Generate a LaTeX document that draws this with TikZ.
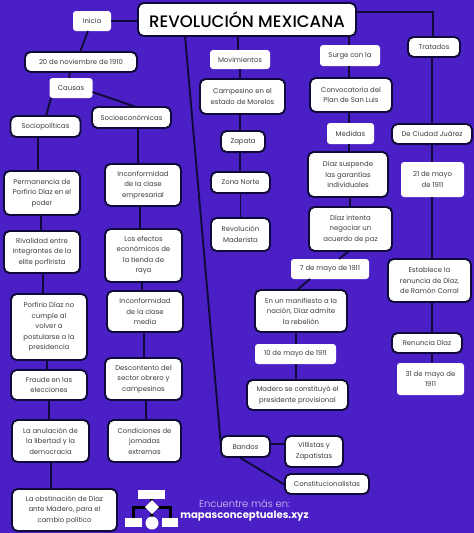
\documentclass[tikz,border=0pt]{standalone}
\usepackage{fontspec}
\usepackage{xcolor}
\setmainfont{Poppins}
\newfontfamily\headfont{Poppins Medium}
\newfontfamily\lightfont{Poppins Light}
\usetikzlibrary{positioning,shapes.geometric}
\definecolor{bgviolet}{HTML}{4A20C6}
\definecolor{inkdark}{HTML}{100A38}
\definecolor{txtgrey}{HTML}{3A3A44}
\definecolor{lilac}{HTML}{D6CCF6}

\begin{document}
\begin{tikzpicture}[
  x=1pt, y=1pt,
  font=\fontsize{6.9}{10.5}\selectfont,
  box/.style={draw=inkdark, line width=1.9pt, rounded corners=5.5pt, fill=white, text=txtgrey, align=center, inner sep=0pt, outer sep=0pt},
  tag/.style={rounded corners=3pt, fill=white, text=txtgrey, align=center, inner sep=0pt, outer sep=0pt},
  lnk/.style={draw=inkdark, line width=1.9pt},
  logolnk/.style={draw=black, line width=3pt},
  logopart/.style={draw=none, fill=white, inner sep=0pt, outer sep=0pt}
]
\fill[bgviolet] (0,0) rectangle (474,-533);
\useasboundingbox (0,0) rectangle (474,-533);
% title
\node[box, minimum width=218pt, minimum height=33pt, font=\headfont\fontsize{16.6}{20}\selectfont, text=black] (title) at (247,-19.5) {REVOLUCIÓN MEXICANA};
% left branch
\node[tag, minimum width=38pt, minimum height=20pt, left=27pt of title, yshift=-1.5pt] (inicia) {Inicia};
\node[box, minimum width=112pt, minimum height=20pt, below=21pt of inicia, xshift=-11pt] (fecha) {20 de noviembre de 1910};
\node[tag, minimum width=43pt, minimum height=20pt, below=6pt of fecha, xshift=-10pt] (causas) {Causas};
\node[box, minimum width=70pt, minimum height=21pt, below=18pt of causas, xshift=-25.5pt] (sociopol) {Sociopolíticas};
\node[box, minimum width=79pt, minimum height=21pt, below=9pt of causas, xshift=60.5pt] (socioecon) {Socioeconómicas};
\node[box, minimum width=76pt, minimum height=44pt, below=34pt of sociopol, xshift=-3.5pt] (perm) {Permanencia de\\Porfirio Díaz en el\\poder};
\node[box, minimum width=76pt, minimum height=42pt, below=16pt of perm] (rival) {Rivalidad entre\\integrantes de la\\elite porfirista};
\node[box, minimum width=76pt, minimum height=66pt, below=21pt of rival, xshift=7pt] (porfirio) {Porfirio Díaz no\\cumple al\\volver a\\postularse a la\\presidencia};
\node[box, minimum width=76pt, minimum height=30pt, below=10pt of porfirio] (fraude) {Fraude en las\\elecciones};
\node[box, minimum width=77pt, minimum height=42pt, below=20pt of fraude, xshift=1.5pt] (anulacion) {La anulación de\\la libertad y la\\democracia};
\node[box, minimum width=105pt, minimum height=42pt, below=27pt of anulacion, xshift=14pt] (obstinacion) {La obstinación de Díaz\\ante Madero, para el\\cambio político};
\node[box, minimum width=76pt, minimum height=42pt, below=36pt of socioecon, xshift=11.5pt] (empresarial) {Inconformidad\\de la clase\\empresarial};
\node[box, minimum width=77pt, minimum height=53pt, below=23pt of empresarial, xshift=0.5pt] (efectos) {Los efectos\\económicos de\\la tienda de\\raya};
\node[box, minimum width=76pt, minimum height=41pt, below=9pt of efectos, xshift=1.5pt] (media) {Inconformidad\\de la clase\\media};
\node[box, minimum width=77pt, minimum height=42pt, below=26pt of media, xshift=-1.5pt] (descontento) {Descontento del\\sector obrero y\\campesinos};
\node[box, minimum width=73pt, minimum height=42pt, below=20pt of descontento, xshift=1pt] (jornadas) {Condiciones de\\jornadas\\extremas};
% middle branch
\node[tag, minimum width=60pt, minimum height=19pt, below=14pt of title, xshift=-7pt] (movimientos) {Movimientos};
\node[box, minimum width=85pt, minimum height=35pt, below=10pt of movimientos, xshift=2.5pt] (campesino) {Campesino en el\\estado de Morelos};
\node[box, minimum width=44pt, minimum height=21pt, below=17pt of campesino, xshift=0.5pt] (zapata) {Zapata};
\node[box, minimum width=59pt, minimum height=21pt, below=20pt of zapata, xshift=-2.5pt] (zona) {Zona Norte};
\node[box, minimum width=59pt, minimum height=33pt, below=25pt of zona] (maderista) {Revolución\\Maderista};
\node[box, minimum width=49pt, minimum height=21pt, below=185pt of maderista, xshift=5pt] (bandos) {Bandos};
\node[box, minimum width=58pt, minimum height=31pt, right=15pt of bandos, yshift=-5pt] (villistas) {Villistas y\\Zapatistas};
\node[box, minimum width=84pt, minimum height=20pt, below=7pt of villistas, xshift=13pt] (constit) {Constitucionalistas};
% center branch
\node[tag, minimum width=60pt, minimum height=21pt, below=9pt of title, xshift=103pt] (surge) {Surge con la};
\node[box, minimum width=82pt, minimum height=34pt, below=12pt of surge, xshift=1pt] (convocatoria) {Convocatoria del\\Plan de San Luis};
\node[tag, minimum width=47pt, minimum height=21pt, below=11pt of convocatoria, xshift=-0.5pt] (medidas) {Medidas};
\node[box, minimum width=80pt, minimum height=45pt, below=8pt of medidas, xshift=-2.5pt] (suspende) {Díaz suspende\\las garantías\\individuales};
\node[box, minimum width=83pt, minimum height=44pt, below=10pt of suspende, xshift=2.5pt] (negociar) {Díaz intenta\\negociar un\\acuerdo de paz};
\node[tag, minimum width=78pt, minimum height=20pt, below=8pt of negociar, xshift=-20.5pt] (siete) {7 de mayo de 1911};
\node[box, minimum width=92pt, minimum height=42pt, below=11pt of siete, xshift=-29pt] (manifiesto) {En un manifiesto a la\\nación, Díaz admite\\la rebelión};
\node[tag, minimum width=81pt, minimum height=20pt, below=12pt of manifiesto, xshift=-5.5pt] (diez) {10 de mayo de 1911};
\node[box, minimum width=101pt, minimum height=30pt, below=16pt of diez, xshift=2pt] (madero) {Madero se constituyó el\\presidente provisional};
% right branch
\node[box, minimum width=52pt, minimum height=20pt, right=52pt of title, yshift=-27.5pt] (tratados) {Tratados};
\node[box, minimum width=80pt, minimum height=20pt, below=67pt of tratados, xshift=-2pt] (juarez) {De Ciudad Juárez};
\node[tag, minimum width=63pt, minimum height=35pt, below=18pt of juarez, xshift=0.5pt] (veintiuno) {21 de mayo\\de 1911};
\node[box, minimum width=83pt, minimum height=43pt, below=62pt of veintiuno, xshift=-3pt] (establece) {Establece la\\renuncia de Díaz,\\de Ramón Corral};
\node[box, minimum width=70pt, minimum height=20pt, below=31pt of establece, xshift=-2.5pt] (renuncia) {Renuncia Díaz};
\node[tag, minimum width=67pt, minimum height=32pt, below=10pt of renuncia, xshift=3.5pt] (treintauno) {31 de mayo de\\1911};
% connectors
\draw[lnk] (inicia) -- (inicia -| title.west);
\draw[lnk] ([xshift=-4pt]inicia.south) -- ([xshift=-1pt]fecha.north);
\draw[lnk] ([xshift=-11pt]fecha.south) -- ([xshift=-2pt]causas.north);
\draw[lnk] ([xshift=-20pt]causas.south) -- ([xshift=0.5pt]sociopol.north);
\draw[lnk] ([yshift=-4pt]causas.east) -- ([xshift=4.5pt]socioecon.north);
\draw[lnk] ([xshift=-7.5pt]sociopol.south) -- ([xshift=-4pt]perm.north);
\draw[lnk] ([xshift=-1pt]perm.south) -- ([xshift=-1pt]rival.north);
\draw[lnk] ([xshift=1pt]rival.south) -- ([xshift=-6pt]porfirio.north);
\draw[lnk] ([xshift=-2pt]porfirio.south) -- ([xshift=-2pt]fraude.north);
\draw[lnk] (fraude.south) -- ([xshift=-1.5pt]anulacion.north);
\draw[lnk] ([xshift=0.5pt]anulacion.south) -- ([xshift=-13.5pt]obstinacion.north);
\draw[lnk] ([xshift=6.5pt]socioecon.south) -- ([xshift=-5pt]empresarial.north);
\draw[lnk] ([xshift=-3pt]empresarial.south) -- ([xshift=-3.5pt]efectos.north);
\draw[lnk] ([xshift=-1.5pt]efectos.south) -- ([xshift=-3pt]media.north);
\draw[lnk] ([xshift=-1pt]media.south) -- ([xshift=0.5pt]descontento.north);
\draw[lnk] ([xshift=2.5pt]descontento.south) -- ([xshift=1.5pt]jornadas.north);
\draw[lnk] ([xshift=-9pt]title.south) -- ([xshift=-2pt]movimientos.north);
\draw[lnk] (movimientos.south) -- ([xshift=-2.5pt]campesino.north);
\draw[lnk] ([xshift=-2.5pt]campesino.south) -- ([xshift=-3pt]zapata.north);
\draw[lnk] ([xshift=-3pt]zapata.south) -- ([xshift=-0.5pt]zona.north);
\draw[lnk] (zona.south) -- (maderista.north);
\draw[lnk] ([xshift=-62pt]title.south) -- (bandos.west);
\draw[lnk] ([yshift=2.5pt]bandos.east) -- ([yshift=7.5pt]villistas.west);
\draw[lnk] ([xshift=-6.5pt]bandos.south) -- ([yshift=-1pt]constit.west);
\draw[lnk] ([xshift=102pt]title.south) -- ([xshift=-1pt]surge.north);
\draw[lnk] ([xshift=-1pt]surge.south) -- ([xshift=-2pt]convocatoria.north);
\draw[lnk] ([xshift=-2pt]convocatoria.south) -- ([xshift=-1.5pt]medidas.north);
\draw[lnk] ([xshift=-1.5pt]medidas.south) -- ([xshift=1pt]suspende.north);
\draw[lnk] ([xshift=2pt]suspende.south) -- ([xshift=-0.5pt]negociar.north);
\draw[lnk] ([xshift=-1.5pt]negociar.south) -- ([xshift=9pt]siete.north);
\draw[lnk] ([xshift=-20pt]siete.south) -- ([xshift=-4pt]manifiesto.north);
\draw[lnk] ([xshift=-5pt]manifiesto.south) -- ([xshift=0.5pt]diez.north);
\draw[lnk] ([xshift=0.5pt]diez.south) -- ([xshift=-1.5pt]madero.north);
\draw[lnk] ([yshift=7.5pt]title.east) -| ([xshift=-1pt]tratados.north);
\draw[lnk] ([xshift=-2pt]tratados.south) -- (juarez.north);
\draw[lnk] (juarez.south) -- ([xshift=-0.5pt]veintiuno.north);
\draw[lnk] ([xshift=-0.5pt]veintiuno.south) -- ([xshift=2.5pt]establece.north);
\draw[lnk] ([xshift=2.5pt]establece.south) -- ([xshift=5pt]renuncia.north);
\draw[lnk] ([xshift=5pt]renuncia.south) -- ([xshift=1.5pt]treintauno.north);
% logo
\draw[logolnk] (151.5,-494.5) -- (152,-523);
\draw[logolnk] (133.5,-522.5) |- (170,-507) -- (170,-522.5);
\node[logopart, minimum width=27pt, minimum height=9pt] (logotop) at (151.5,-494.5) {};
\node[logopart, diamond, minimum width=14pt, minimum height=14pt] (logodia) at (152,-507) {};
\node[logopart, minimum width=17pt, minimum height=9pt] (logoleft) at (133.5,-522.5) {};
\node[logopart, minimum width=16pt, minimum height=9pt] (logoright) at (170,-522.5) {};
\node[logopart, circle, minimum width=13pt] (logocirc) at (152,-523) {};
\node[inner sep=0pt, font=\lightfont\fontsize{9.9}{11}\selectfont, text=lilac] (encuentre) at (244.5,-504) {Encuentre más en:};
\node[inner sep=0pt, font=\bfseries\fontsize{10.1}{12}\selectfont, text=white, below=2.5pt of encuentre] (sitio) {mapasconceptuales.xyz};
\end{tikzpicture}
\end{document}
